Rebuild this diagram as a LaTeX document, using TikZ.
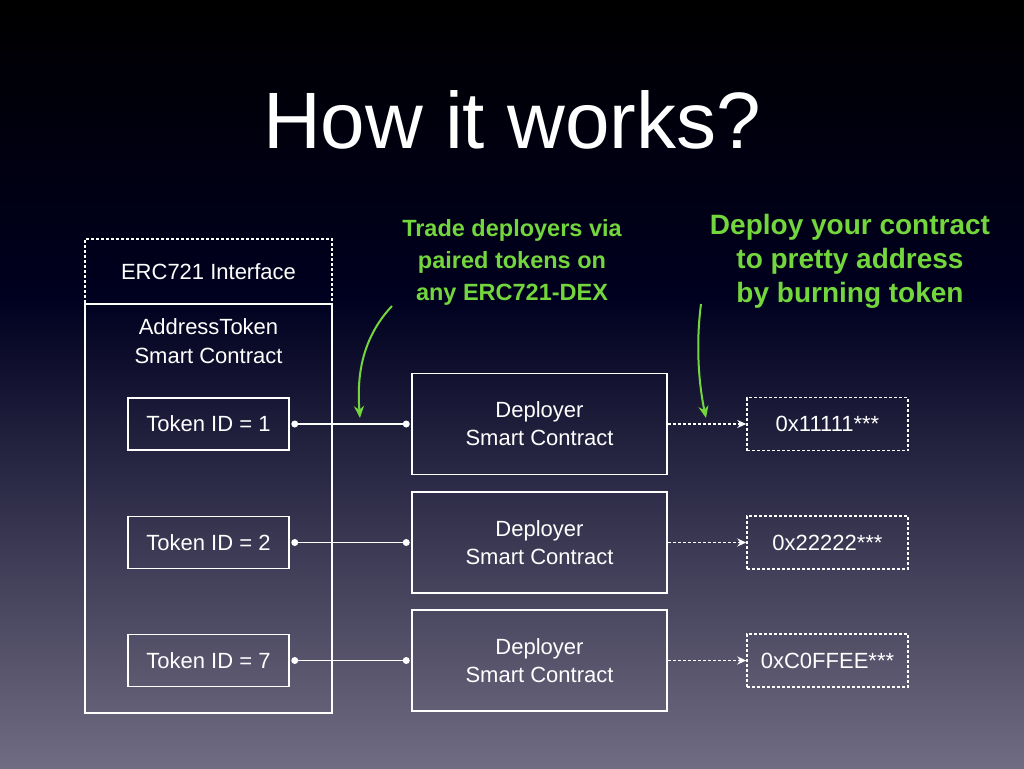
\documentclass[tikz,border=0pt]{standalone}
\usepackage{fontspec}
\setmainfont{Liberation Sans}
\usetikzlibrary{arrows.meta}
\definecolor{grn}{HTML}{72D63C}
\begin{document}
\begin{tikzpicture}[x=1pt,y=-1pt,
  box/.style={draw=white,line width=1.5pt,text=white,align=center,font=\fontsize{22}{28}\selectfont,inner sep=0},
  dbox/.style={box,dash pattern=on 3pt off 2pt},
  dot/.style={circle,fill=white,inner sep=0,minimum size=7pt},
  conn/.style={white,line width=1.5pt},
  dconn/.style={white,line width=1.5pt,dash pattern=on 3pt off 2pt,-{Stealth[length=9pt,width=8pt]}},
  glab/.style={text=grn,align=center,font=\bfseries\fontsize{23.5}{32}\selectfont},
  garr/.style={grn,line width=2pt,-{Stealth[length=12pt,width=10pt]}}]
\path[top color=black,bottom color=black!50!blue!25!black] (0,0) rectangle (1024,300);
\path[top color=black!50!blue!25!black,bottom color={rgb,255:red,112;green,108;blue,130}] (0,299.5) rectangle (1024,768);
\useasboundingbox (0,0) rectangle (1024,768);
\node[text=white,font=\fontsize{80}{90}\selectfont] (title) at (512,120) {How it works?};
\node[dbox,minimum width=247pt,minimum height=65pt] (iface) at (208.5,271.5) {ERC721 Interface};
\node[box,minimum width=247pt,minimum height=409pt] (at) at (208.5,508.5) {};
\node[text=white,align=center,font=\fontsize{22}{29}\selectfont] (atl) at (208.5,341) {AddressToken\\Smart Contract};
\foreach \i/\y/\id/\addr in {1/424/1/0x11111***,2/542.5/2/0x22222***,3/660.5/7/0xC0FFEE***}{
  \node[box,minimum width=161pt,minimum height=52pt] (t\i) at (208.5,\y) {Token ID = \id};
  \node[box,minimum width=255pt,minimum height=101pt] (d\i) at (539.5,\y) {Deployer\\Smart Contract};
  \node[dbox,minimum width=161pt,minimum height=53pt] (a\i) at (827.5,\y) {\addr};
  \node[dot] (s\i) at ([xshift=5pt]t\i.east) {};
  \node[dot] (e\i) at ([xshift=-5pt]d\i.west) {};
  \draw[conn] (s\i) -- (e\i);
  \draw[dconn] (d\i.east) -- (a\i.west);
}
\node[glab] (l1) at (512,262) {Trade deployers via\\paired tokens on\\any ERC721-DEX};
\node[glab,font=\bfseries\fontsize{28}{34}\selectfont] (l2) at (850,261) {Deploy your contract\\to pretty address\\by burning token};
\coordinate (g1) at (392,306);
\coordinate (g1e) at (360,418);
\coordinate (g2) at (701,304);
\coordinate (g2e) at (706,418);
\draw[garr] (g1) .. controls (360,340) and (357,380) .. (g1e);
\draw[garr] (g2) .. controls (695,350) and (700,390) .. (g2e);
\end{tikzpicture}
\end{document}
